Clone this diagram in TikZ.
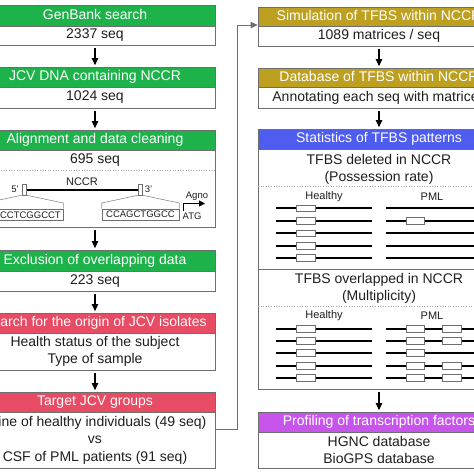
\documentclass[tikz,border=0pt]{standalone}
\usepackage{fontspec}
\setmainfont{Liberation Sans}
\usetikzlibrary{arrows.meta}
\definecolor{hgreen}{RGB}{30,178,74}
\definecolor{hred}{RGB}{232,76,100}
\definecolor{holive}{RGB}{189,160,32}
\definecolor{hblue}{RGB}{78,92,240}
\definecolor{hpurple}{RGB}{200,85,235}
\definecolor{boxgray}{RGB}{110,110,110}
\definecolor{txt}{RGB}{30,30,30}
\newcommand{\fbig}{\fontsize{14}{17.5}\selectfont}
\newcommand{\fmid}{\fontsize{11}{13}\selectfont}
\newcommand{\fsmall}{\fontsize{9.5}{11}\selectfont}
\begin{document}
\begin{tikzpicture}[x=1pt,y=-1pt,
  head/.style={draw=boxgray, line width=0.8pt, fill=#1, text=white, font=\fbig,
    minimum width=241pt, inner sep=0pt, text height=10pt, text depth=3pt},
  body/.style={draw=boxgray, line width=0.8pt, fill=white, text=txt, font=\fbig,
    minimum width=241pt, inner sep=0pt, align=center},
  arr/.style={draw=black, line width=1.1pt, -{Triangle[width=6.5pt,length=7pt]},
    shorten <=2.5pt, shorten >=1.5pt},
  conn/.style={draw=boxgray, line width=0.9pt, -{Triangle[width=6.5pt,length=7pt]}},
  dotsep/.style={draw=gray!70, line width=0.6pt, dotted},
  dna/.style={draw=black, line width=2pt},
  site/.style={draw=boxgray, line width=0.6pt, fill=white},
  lbl/.style={text=txt, font=\fmid, inner sep=0pt},
  slbl/.style={text=txt, font=\fsmall, inner sep=0pt},
  fan/.style={draw=boxgray!80, line width=0.6pt}
]
\useasboundingbox (0,0) rectangle (474,474);
\clip (0,0) rectangle (474,474);
\fill[white] (0,0) rectangle (474,474);

% ---------------- left column ----------------
\node[head=hgreen, minimum height=21pt] (h1) at (95,15.5) {GenBank search};
\node[body, minimum height=19pt] (b1) at (95,35.5) {2337 seq};

\node[head=hgreen, minimum height=20pt] (h2) at (95,77) {JCV DNA containing NCCR};
\node[body, minimum height=21pt] (b2) at (95,97.5) {1024 seq};

\node[head=hgreen, minimum height=20pt] (h3) at (95,140) {Alignment and data cleaning};
\node[body, minimum height=77pt] (b3) at (95,188.5) {};
\node[lbl, font=\fbig] (t3) at (95,160) {695 seq};
\draw[dotsep] (-25,170) -- (215.5,170);

% NCCR diagram
\node[lbl, font=\fmid] (nccr) at (82,182) {NCCR};
\node[site, minimum width=4.5pt, minimum height=11pt, inner sep=0pt] (s5) at (24.25,189.5) {};
\node[site, minimum width=4.5pt, minimum height=11pt, inner sep=0pt] (s3) at (140.25,189.5) {};
\draw[dna] (s5.east) -- (s3.west);
\node[slbl] (p5) at (15,189) {5'};
\node[slbl] (p3) at (148.5,189) {3'};
\node[site, minimum width=78pt, minimum height=11pt, inner sep=0pt] (q5) at (24,214.5) {};
\node[slbl, anchor=east] (q5t) at (61,215) {CCTCGGCCT};
\node[site, minimum width=77pt, minimum height=11pt, inner sep=0pt, slbl] (q3) at (140.5,214.5) {CCAGCTGGCC};
\draw[fan] (s5.south west) -- (q5.north west |- 0,203) -- (q5.north west);
\draw[fan] (s5.south east) -- (q5.north east |- 0,203) -- (q5.north east);
\draw[fan] (s3.south west) -- (q3.north west |- 0,203) -- (q3.north west);
\draw[fan] (s3.south east) -- (q3.north east |- 0,203) -- (q3.north east);
\node[slbl, anchor=west] (atg) at (182.5,216) {ATG};
\node[slbl] (agno) at (197,196.5) {Agno};
\coordinate (ag1) at (183.5,211);
\coordinate (ag2) at (183.5,203.5);
\coordinate (ag3) at (205,203.5);
\draw[line width=1pt, -{Triangle[width=6pt,length=6pt]}] (ag1) -- (ag2) -- (ag3);

\node[head=hgreen, minimum height=21pt] (h4) at (95,260.5) {Exclusion of overlapping data};
\node[body, minimum height=20pt] (b4) at (95,281) {223 seq};

\node[head=hred, minimum height=20pt] (h5) at (95,323) {Search for the origin of JCV isolates};
\node[body, minimum height=37pt] (b5) at (95,351.5) {Health status of the subject\\Type of sample};

\node[head=hred, minimum height=20pt] (h6) at (95,402) {Target JCV groups};
\node[body, minimum height=56pt] (b6) at (95,440) {Urine of healthy individuals (49 seq)\\vs\\CSF of PML patients (91 seq)};

\draw[arr] (b1) -- (h2);
\draw[arr] (b2) -- (h3);
\draw[arr] (b3) -- (h4);
\draw[arr] (b4) -- (h5);
\draw[arr] (b5) -- (h6);

% ---------------- right column ----------------
\node[head=holive, minimum height=19pt, minimum width=242pt] (h7) at (379,16.5) {Simulation of TFBS within NCCR};
\node[body, minimum height=20pt, minimum width=242pt] (b7) at (379,36) {1089 matrices / seq};

\node[head=holive, minimum height=19pt, minimum width=242pt] (h8) at (379,77.5) {Database of TFBS within NCCR};
\node[body, minimum height=21pt, minimum width=242pt] (b8) at (379,97.5) {Annotating each seq with matrices};

\node[head=hblue, minimum height=20pt, minimum width=242pt] (h9) at (379,139) {Statistics of TFBS patterns};
\node[body, minimum height=240pt, minimum width=242pt] (b9) at (379,269) {};
\node[lbl, font=\fbig, align=center] (d1) at (379,169.5) {TFBS deleted in NCCR\\(Possession rate)};
\draw[dotsep] (258,186) -- (500,186);
\node[lbl] (hh1) at (324,196.5) {Healthy};
\node[lbl] (pp1) at (432,196.5) {PML};
\draw[draw=boxgray, line width=0.8pt] (258,269) -- (500,269);
\node[lbl, font=\fbig, align=center] (d2) at (379,288.5) {TFBS overlapped in NCCR\\(Multiplicity)};
\draw[dotsep] (258,306.5) -- (500,306.5);
\node[lbl] (hh2) at (324,316) {Healthy};
\node[lbl] (pp2) at (432,316) {PML};

% deleted section rows
\foreach \y in {208.3,220.7,233.3,245.7,257.7} {
  \draw[dna] (276,\y) -- (371.5,\y);
  \draw[site] (296,\y-3.3) rectangle (315,\y+3.3);
  \draw[dna] (386,\y) -- (500,\y);
}
\draw[site] (406,220.7-3.3) rectangle (424,220.7+3.3);

% overlapped section rows
\foreach \y/\two in {329/1,340.7/1,352.7/0,365.7/1,377.7/1} {
  \draw[dna] (276,\y) -- (371.5,\y);
  \draw[site] (296,\y-3.3) rectangle (315,\y+3.3);
  \draw[dna] (386,\y) -- (500,\y);
  \draw[site] (406,\y-3.3) rectangle (424,\y+3.3);
  \ifnum\two=1 \draw[site] (442,\y-3.3) rectangle (461,\y+3.3); \fi
}

\node[head=hpurple, minimum height=20pt, minimum width=242pt] (h10) at (379,422) {Profiling of transcription factors};
\node[body, minimum height=36pt, minimum width=242pt] (b10) at (379,450) {HGNC database\\BioGPS database};

\draw[arr] (b7) -- (h8);
\draw[arr] (b8) -- (h9);
\draw[arr] (b9) -- (h10);

% ---------------- connector ----------------
\coordinate (c1) at (237.5,429);
\coordinate (c2) at (237.5,25);
\draw[conn] (b6.east |- c1) -- (c1) -- (c2) -- (h7.west |- c2);
\end{tikzpicture}
\end{document}
